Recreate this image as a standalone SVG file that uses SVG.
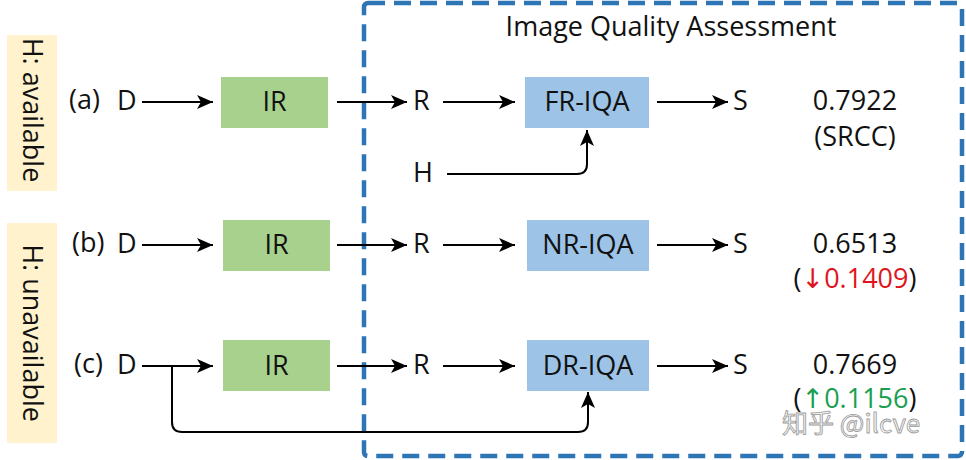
<svg xmlns="http://www.w3.org/2000/svg" width="966" height="460" viewBox="0 0 966 460">
<defs>
<marker id="ah" viewBox="0 0 16 14" refX="16" refY="7" markerWidth="16" markerHeight="14" markerUnits="userSpaceOnUse" orient="auto">
<path d="M0,0 L16,7 L0,14 L4,7 Z" fill="#000"/>
</marker>
<style>
text{font-family:"Open Sans","Noto Sans","DejaVu Sans",sans-serif;fill:#111;}
.t{font-size:27px;}
.c{text-anchor:middle;}
.ir{fill:#A9D18E;}
.iqa{fill:#9DC3E6;}
.side{fill:#FFF2CC;}
.ln{fill:none;stroke:#000;stroke-width:2;marker-end:url(#ah);}
.red{fill:#E0141E;}
.grn{fill:#18A050;}
</style>
</defs>
<rect width="966" height="460" fill="#fff"/>
<g id="iqa-frame">
<rect x="364" y="3" width="598" height="453" rx="4" fill="none" stroke="#2E75B6" stroke-width="4.5" stroke-dasharray="17,9"/>
<text class="c" x="671" y="36" style="font-size:27px">Image Quality Assessment</text>
</g>
<g id="side-a">
<rect class="side" x="7" y="35" width="50" height="156"/>
<text class="t c" transform="translate(23,110) rotate(90)">H: available</text>
</g>
<g id="side-bc">
<rect class="side" x="7" y="223" width="50" height="220"/>
<text class="t c" transform="translate(23,333) rotate(90)">H: unavailable</text>
</g>
<g id="row-a">
<text class="t" x="69" y="109">(a)</text>
<text class="t" x="117" y="110">D</text>
<g id="ir-a"><rect class="ir" x="221" y="77" width="107" height="51"/><text class="t c" x="274.5" y="111">IR</text></g>
<text class="t" x="413" y="110">R</text>
<g id="fr-iqa"><rect class="iqa" x="525" y="77" width="124" height="51"/><text class="t c" x="587" y="111">FR-IQA</text></g>
<text class="t" x="413" y="182">H</text>
<text class="t" x="733" y="110">S</text>
<text class="t c" x="855" y="110">0.7922</text>
<text class="t c" x="855" y="146">(SRCC)</text>
</g>
<g id="row-b">
<text class="t" x="72" y="252">(b)</text>
<text class="t" x="117" y="253">D</text>
<g id="ir-b"><rect class="ir" x="223" y="220" width="107" height="51"/><text class="t c" x="276.5" y="254">IR</text></g>
<text class="t" x="413" y="253">R</text>
<g id="nr-iqa"><rect class="iqa" x="527" y="220" width="122" height="51"/><text class="t c" x="588" y="254">NR-IQA</text></g>
<text class="t" x="733" y="253">S</text>
<text class="t c" x="855" y="253">0.6513</text>
<text class="t c" x="855" y="288">(<tspan class="red">↓0.1409</tspan>)</text>
</g>
<g id="row-c">
<text class="t" x="74" y="373">(c)</text>
<text class="t" x="117" y="374">D</text>
<g id="ir-c"><rect class="ir" x="223" y="340" width="107" height="51"/><text class="t c" x="276.5" y="375">IR</text></g>
<text class="t" x="413" y="374">R</text>
<g id="dr-iqa"><rect class="iqa" x="527" y="340" width="122" height="51"/><text class="t c" x="588" y="375">DR-IQA</text></g>
<text class="t" x="733" y="374">S</text>
<text class="t c" x="855" y="374">0.7669</text>
<text class="t c" x="855" y="408">(<tspan class="grn">↑0.1156</tspan>)</text>
</g>
<g id="connectors">
<path class="ln" d="M142,102 H213"/>
<path class="ln" d="M337,102 H407"/>
<path class="ln" d="M443,102 H515"/>
<path class="ln" d="M657,102 H728"/>
<path class="ln" d="M447,174 H577 Q587,174 587,164 V130"/>
<path class="ln" d="M142,245 H213"/>
<path class="ln" d="M337,245 H407"/>
<path class="ln" d="M443,245 H515"/>
<path class="ln" d="M657,245 H728"/>
<path class="ln" d="M142,366 H213"/>
<path class="ln" d="M337,366 H407"/>
<path class="ln" d="M443,366 H515"/>
<path class="ln" d="M657,366 H728"/>
<path class="ln" d="M172,366 V422 Q172,432 182,432 H578 Q588,432 588,422 V392"/>
</g>
<g id="watermark">
<text x="782" y="433" style="font-family:'Noto Sans CJK SC','Open Sans',sans-serif;font-size:26px;fill:#f4f4f4;stroke:#9a9a9a;stroke-width:0.8">知乎 @ilcve</text>
</g>
</svg>
